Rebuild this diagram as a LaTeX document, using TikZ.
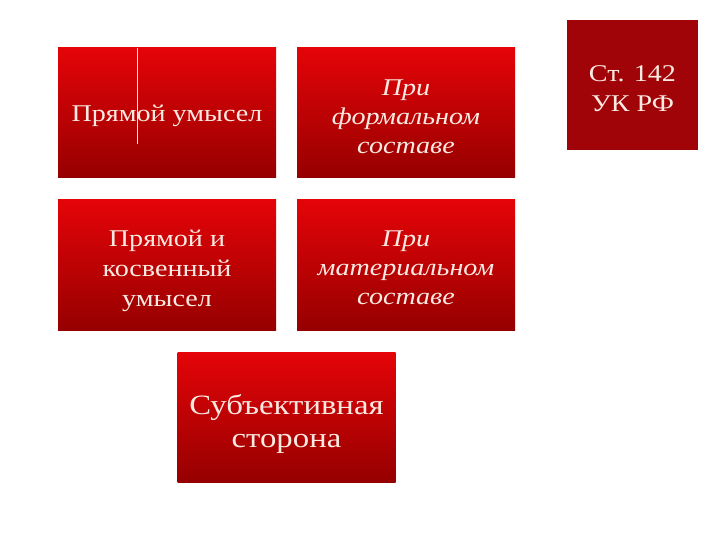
\documentclass[tikz,border=0pt]{standalone}
\usepackage{fontspec}
\setmainfont[FakeStretch=1.17]{Liberation Serif}
\definecolor{redtop}{RGB}{228,4,8}
\definecolor{redbot}{RGB}{150,0,0}
\definecolor{reddark}{RGB}{160,4,8}
\definecolor{txt}{RGB}{250,234,226}
\begin{document}
\begin{tikzpicture}[x=1pt,y=-1pt,
  gbox/.style={rectangle, inner sep=0pt, top color=redtop, bottom color=redbot,
    minimum width=218pt, minimum height=130pt},
  sbox/.style={rectangle, inner sep=0pt, fill=reddark,
    minimum width=131pt, minimum height=130pt},
  lbl/.style={text=txt, align=center, inner sep=0pt,
    font=\fontsize{24}{30}\selectfont}]
\useasboundingbox[fill=white] (0,0) rectangle (720,540);
\node[gbox] (b1) at (167,113) {};
\node[gbox] (b2) at (406,113) {};
\node[sbox] (b3) at (632.5,85) {};
\node[gbox] (b4) at (167,265) {};
\node[gbox] (b5) at (406,265) {};
\node[gbox] (b6) at (286.5,417) {};
\node[lbl] (t1) at ([yshift=-3pt]b1.center) {Прямой умысел};
\node[lbl, font=\fontsize{24}{29}\selectfont\itshape] (t2) at ([yshift=-4pt]b2.center) {При\\формальном\\составе};
\node[lbl] (t3) at ([yshift=-4pt]b3.center) {Ст. 142\\УК РФ};
\node[lbl] (t4) at ([yshift=-6pt]b4.center) {Прямой и\\косвенный\\умысел};
\node[lbl, font=\fontsize{24}{29}\selectfont\itshape] (t5) at ([yshift=-3pt]b5.center) {При\\материальном\\составе};
\node[lbl, font=\fontsize{28}{33}\selectfont] (t6) at ([yshift=-7pt]b6.center) {Субъективная\\сторона};
\coordinate (lt) at (137,48);
\coordinate (lb) at (137,144);
\draw[txt, line width=0.8pt] (lt) -- (lb);
\end{tikzpicture}
\end{document}
